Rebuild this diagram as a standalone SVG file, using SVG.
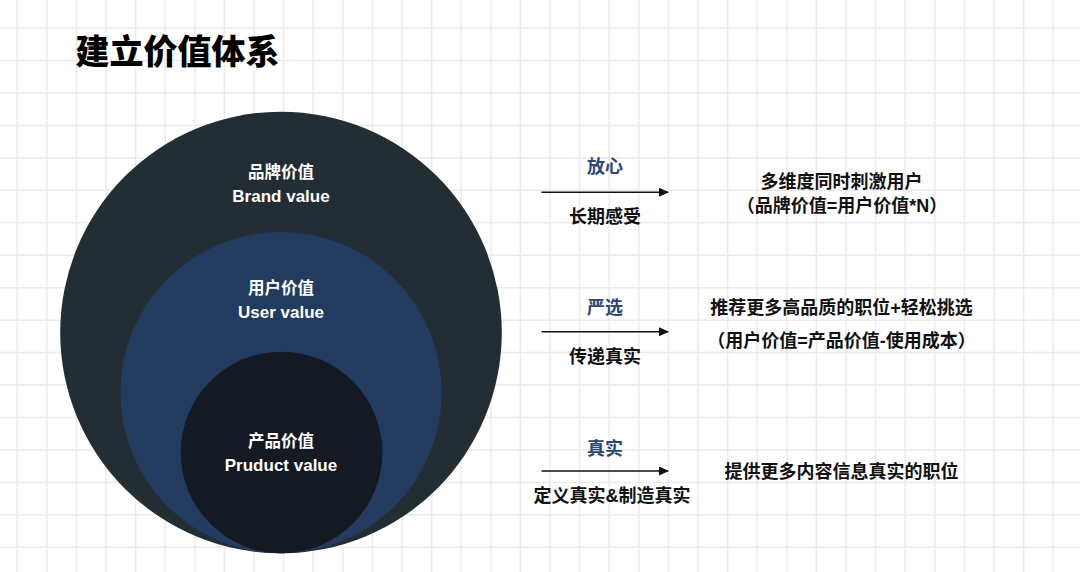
<svg xmlns="http://www.w3.org/2000/svg" width="1080" height="572" viewBox="0 0 1080 572">
<style>
.grid{stroke:#ebebeb;stroke-width:1.5;fill:none}
.t{font-family:"Liberation Sans","Noto Sans CJK SC",sans-serif;text-anchor:middle;font-weight:700}
.w{fill:#ffffff}
.k{fill:#111111;font-size:18px}
.b{fill:#2c4772;font-size:18px}
.cn{font-size:16.5px}
.en{font-size:17px}
.arrow{stroke:#111111;stroke-width:1.6;fill:none}
</style>
<defs>
<marker id="ah" markerWidth="10" markerHeight="10" refX="9" refY="4.5" orient="auto" markerUnits="userSpaceOnUse">
<path d="M0,0 L10,4.5 L0,9 Z" fill="#111111"/>
</marker>
</defs>
<rect width="1080" height="572" fill="#ffffff"/>
<path class="grid" d="M17.2 0V572M46.8 0V572M76.4 0V572M106 0V572M135.6 0V572M165.2 0V572M194.8 0V572M224.4 0V572M254 0V572M283.6 0V572M313.2 0V572M342.8 0V572M372.4 0V572M402 0V572M431.6 0V572M461.2 0V572M490.8 0V572M520.4 0V572M550 0V572M579.6 0V572M609.2 0V572M638.8 0V572M668.4 0V572M698 0V572M727.6 0V572M757.2 0V572M786.8 0V572M816.4 0V572M846 0V572M875.6 0V572M905.2 0V572M934.8 0V572M964.4 0V572M994 0V572M1023.6 0V572M1053.2 0V572M0 28.1H1080M0 60.55H1080M0 93H1080M0 125.45H1080M0 157.9H1080M0 190.35H1080M0 222.8H1080M0 255.25H1080M0 287.7H1080M0 320.15H1080M0 352.6H1080M0 385.05H1080M0 417.5H1080M0 449.95H1080M0 482.4H1080M0 514.85H1080M0 547.3H1080"/>
<g id="title">
<text x="75.5" y="63.5" style="font-family:'Noto Sans CJK SC',sans-serif;font-weight:900;font-size:34px;fill:#000000">建立价值体系</text>
</g>
<g id="brand">
<circle cx="281" cy="332.5" r="220.8" fill="#232d34"/>
<text class="t w cn" x="281" y="178">品牌价值</text>
<text class="t w en" x="281" y="202">Brand value</text>
</g>
<g id="user">
<circle cx="281" cy="392.6" r="160.7" fill="#233b5e"/>
<text class="t w cn" x="281" y="294">用户价值</text>
<text class="t w en" x="281" y="318">User value</text>
</g>
<g id="product">
<circle cx="281.5" cy="452.5" r="100.8" fill="#151923"/>
<text class="t w cn" x="281" y="447">产品价值</text>
<text class="t w en" x="281" y="471">Pruduct value</text>
</g>
<g id="connectors">
<line class="arrow" x1="541.5" y1="192.3" x2="668" y2="192.3" marker-end="url(#ah)"/>
<line class="arrow" x1="541.5" y1="331.7" x2="668" y2="331.7" marker-end="url(#ah)"/>
<line class="arrow" x1="541.5" y1="471" x2="668" y2="471" marker-end="url(#ah)"/>
</g>
<g id="row1">
<text class="t b" x="605" y="173">放心</text>
<text class="t k" x="605" y="223">长期感受</text>
<text class="t k" x="841.5" y="188">多维度同时刺激用户</text>
<text class="t k" x="842" y="211.5">（品牌价值=用户价值*N）</text>
</g>
<g id="row2">
<text class="t b" x="605" y="313.5">严选</text>
<text class="t k" x="605" y="363">传递真实</text>
<text class="t k" x="841.5" y="313.5">推荐更多高品质的职位+轻松挑选</text>
<text class="t k" x="841.5" y="347">（用户价值=产品价值-使用成本）</text>
</g>
<g id="row3">
<text class="t b" x="605" y="454.5">真实</text>
<text class="t k" x="612" y="501.5">定义真实&amp;制造真实</text>
<text class="t k" x="841.5" y="478">提供更多内容信息真实的职位</text>
</g>
</svg>
